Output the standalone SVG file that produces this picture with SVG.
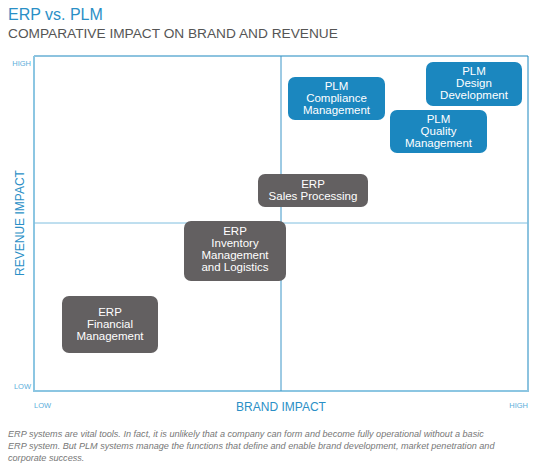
<svg xmlns="http://www.w3.org/2000/svg" width="539" height="468" viewBox="0 0 539 468">
<style>
.t{font-family:"Liberation Sans",Arial,sans-serif}
.bt{font-family:"Liberation Sans",Arial,sans-serif;font-size:11.5px;fill:#fff;text-anchor:middle}
.ax{font-family:"Liberation Sans",Arial,sans-serif;font-size:7.5px;fill:#5aaedb}
.plm{fill:#1b87bf}
.erp{fill:#636061}
</style>
<rect width="539" height="468" fill="#fff"/>
<text class="t" x="8" y="20" font-size="16" fill="#2a8fc6">ERP vs. PLM</text>
<text class="t" x="8" y="38" font-size="13.7" fill="#555">COMPARATIVE IMPACT ON BRAND AND REVENUE</text>
<g id="axes">
<line x1="34" y1="56" x2="528" y2="56" stroke="#1b87bf" stroke-width="1"/>
<line x1="528" y1="56" x2="528" y2="392" stroke="#1b87bf" stroke-width="1"/>
<line x1="34" y1="56" x2="34" y2="392" stroke="#8cc6e2" stroke-width="2"/>
<line x1="33" y1="391" x2="528" y2="391" stroke="#8cc6e2" stroke-width="2"/>
<line x1="34" y1="223" x2="528" y2="223" stroke="#7fbedf" stroke-width="1"/>
<line x1="281" y1="56" x2="281" y2="391" stroke="#3d96c8" stroke-width="1"/>
</g>
<text class="ax" x="31" y="66" text-anchor="end">HIGH</text>
<text class="ax" x="31" y="389" text-anchor="end">LOW</text>
<text class="ax" x="34" y="408">LOW</text>
<text class="ax" x="528" y="408" text-anchor="end">HIGH</text>
<text class="t" x="281" y="411" font-size="12" fill="#2a8fc6" text-anchor="middle">BRAND IMPACT</text>
<text class="t" transform="translate(24 223) rotate(-90)" font-size="12" fill="#2a8fc6" text-anchor="middle">REVENUE IMPACT</text>
<g id="plm-compliance">
<rect class="plm" x="288" y="77" width="97" height="43" rx="7"/>
<text class="bt" x="336.5" y="90">PLM</text>
<text class="bt" x="336.5" y="102">Compliance</text>
<text class="bt" x="336.5" y="114">Management</text>
</g>
<g id="plm-design">
<rect class="plm" x="426" y="62" width="96" height="44" rx="7"/>
<text class="bt" x="474" y="75">PLM</text>
<text class="bt" x="474" y="87">Design</text>
<text class="bt" x="474" y="99">Development</text>
</g>
<g id="plm-quality">
<rect class="plm" x="390" y="110" width="97" height="43" rx="7"/>
<text class="bt" x="438.5" y="123">PLM</text>
<text class="bt" x="438.5" y="135">Quality</text>
<text class="bt" x="438.5" y="147">Management</text>
</g>
<g id="erp-sales">
<rect class="erp" x="258" y="174" width="110" height="33" rx="7"/>
<text class="bt" x="313" y="188">ERP</text>
<text class="bt" x="313" y="200">Sales Processing</text>
</g>
<g id="erp-inventory">
<rect class="erp" x="184" y="221" width="102" height="60" rx="7"/>
<text class="bt" x="235" y="235">ERP</text>
<text class="bt" x="235" y="247">Inventory</text>
<text class="bt" x="235" y="259">Management</text>
<text class="bt" x="235" y="271">and Logistics</text>
</g>
<g id="erp-financial">
<rect class="erp" x="62" y="296" width="96" height="57" rx="7"/>
<text class="bt" x="110" y="316">ERP</text>
<text class="bt" x="110" y="328">Financial</text>
<text class="bt" x="110" y="340">Management</text>
</g>
<g class="t" font-size="9.1" font-style="italic" fill="#777">
<text x="8" y="437">ERP systems are vital tools. In fact, it is unlikely that a company can form and become fully operational without a basic</text>
<text x="8" y="449">ERP system. But PLM systems manage the functions that define and enable brand development, market penetration and</text>
<text x="8" y="461">corporate success.</text>
</g>
</svg>
